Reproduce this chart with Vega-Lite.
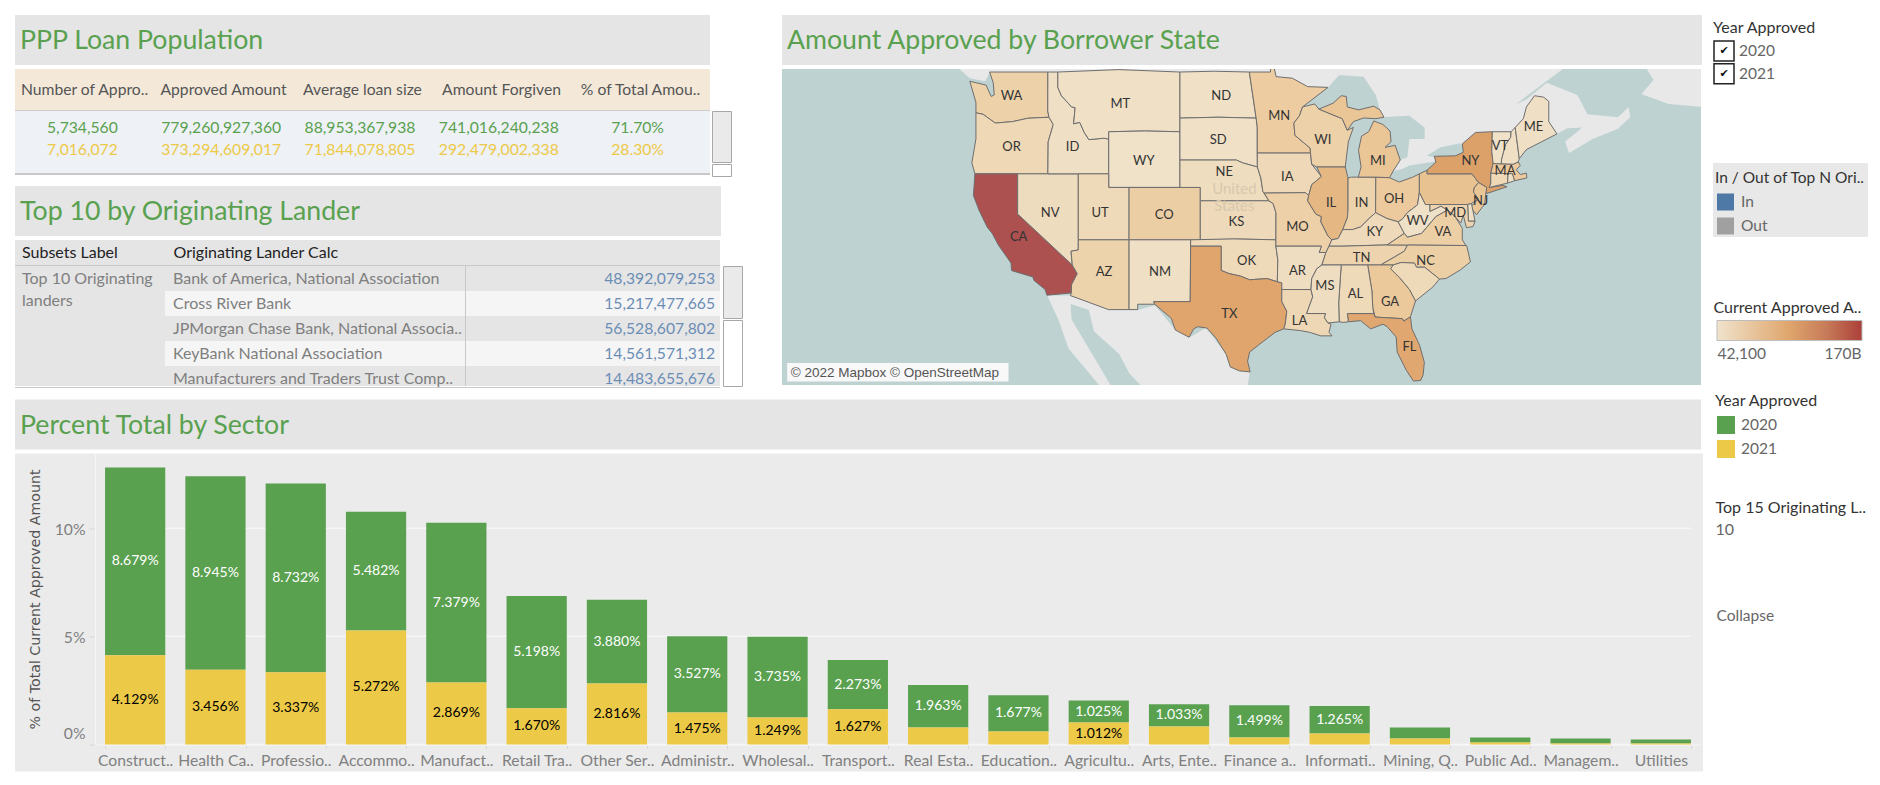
{"$schema":"https://vega.github.io/schema/vega-lite/v6.json","padding":{"left":15,"top":15,"right":0,"bottom":0},"background":"white","config":{"view":{"stroke":null},"font":"Lato","text":{"font":"Lato"},"concat":{"spacing":0}},
"hconcat":[
{"vconcat":[
 {"hconcat":[
  {"vconcat":[
   {"vconcat":[
    {"width":695,"height":50,"view":{"fill":"#e5e5e5","stroke":null},"title":{"text":"PPP Loan Population","anchor":"start","frame":"group","offset":-40,"dx":5,"fontSize":26.7,"font":"Lato","fontWeight":"normal","color":"#59a14f"},"data":{"values":[{}]},"mark":{"type":"rect","opacity":0},"encoding":{}},
    {"hconcat":[
     {"vconcat":[
      {"width":695,"height":41,"view":{"fill":"#f4e9d9","stroke":null},"data":{"values":[{"column":"Number of Appro.."},{"column":"Approved Amount"},{"column":"Average loan size"},{"column":"Amount Forgiven"},{"column":"% of Total Amou.."}]},"mark":{"type":"text","fontSize":15.7,"color":"#555555"},"encoding":{"text":{"field":"column"},"x":{"field":"column","type":"nominal","sort":null,"axis":null,"scale":{"type":"band","paddingInner":0,"paddingOuter":0}}}},
      {"width":695,"height":1,"view":{"fill":"#cccccc","stroke":null},"data":{"values":[{}]},"mark":{"type":"rect","opacity":0},"encoding":{}},
      {"width":695,"height":62,"view":{"fill":"#eef1f5","stroke":null},"data":{"values":[
       {"column":"Number","year":"2020","value":"5,734,560"},{"column":"Approved","year":"2020","value":"779,260,927,360"},{"column":"Average","year":"2020","value":"88,953,367,938"},{"column":"Forgiven","year":"2020","value":"741,016,240,238"},{"column":"Percent","year":"2020","value":"71.70%"},
       {"column":"Number","year":"2021","value":"7,016,072"},{"column":"Approved","year":"2021","value":"373,294,609,017"},{"column":"Average","year":"2021","value":"71,844,078,805"},{"column":"Forgiven","year":"2021","value":"292,479,002,338"},{"column":"Percent","year":"2021","value":"28.30%"}]},
       "mark":{"type":"text","fontSize":15.7},"encoding":{"text":{"field":"value"},"x":{"field":"column","type":"nominal","sort":null,"axis":null,"scale":{"type":"band","range":[-2,692],"paddingInner":0,"paddingOuter":0}},"y":{"field":"year","type":"nominal","axis":null,"scale":{"type":"band","range":[6,50],"paddingInner":0,"paddingOuter":0}},"color":{"field":"year","type":"nominal","legend":null,"scale":{"domain":["2020","2021"],"range":["#59a14f","#edc948"]}}}},
      {"width":695,"height":2,"view":{"fill":"#c8c8c8","stroke":null},"data":{"values":[{}]},"mark":{"type":"rect","opacity":0},"encoding":{}}
     ]},
     {"vconcat":[
      {"width":19,"height":41,"data":{"values":[{}]},"mark":{"type":"rect","opacity":0},"encoding":{}},
      {"width":19,"height":51,"view":{"fill":"#eaeaea","stroke":"#a8a8a8","strokeWidth":1},"data":{"values":[{}]},"mark":{"type":"rect","opacity":0},"encoding":{}},
      {"width":19,"height":12,"view":{"fill":"#ffffff","stroke":"#a8a8a8","strokeWidth":1},"data":{"values":[{}]},"mark":{"type":"rect","opacity":0},"encoding":{}}
     ]}
    ],"spacing":1}
   ],"spacing":4},
   {"vconcat":[
    {"width":706,"height":50,"view":{"fill":"#e5e5e5","stroke":null},"title":{"text":"Top 10 by Originating Lander","anchor":"start","frame":"group","offset":-40,"dx":5,"fontSize":26.7,"font":"Lato","fontWeight":"normal","color":"#59a14f"},"data":{"values":[{}]},"mark":{"type":"rect","opacity":0},"encoding":{}},
    {"hconcat":[
     {"vconcat":[
      {"hconcat":[
       {"width":150,"height":25,"view":{"fill":"#e5e5e5","stroke":null},"data":{"values":[{"header":"Subsets Label"}]},"mark":{"type":"text","align":"left","dx":-68,"fontSize":16,"color":"#222222"},"encoding":{"text":{"field":"header"}}},
       {"width":555,"height":25,"view":{"fill":"#e5e5e5","stroke":null},"data":{"values":[{"header":"Originating Lander Calc"}]},"mark":{"type":"text","align":"left","dx":-269,"fontSize":16,"color":"#222222"},"encoding":{"text":{"field":"header"}}}
      ]},
      {"width":705,"height":1,"view":{"fill":"#c8c8c8","stroke":null},"data":{"values":[{}]},"mark":{"type":"rect","opacity":0},"encoding":{}},
      {"hconcat":[
       {"width":150,"height":120,"view":{"fill":"#e5e5e5","stroke":null},"data":{"values":[{"line":"Top 10 Originating"},{"line":"landers"}]},"mark":{"type":"text","align":"left","dx":-68,"fontSize":16,"color":"#7f7f7f"},"encoding":{"text":{"field":"line"},"y":{"field":"line","type":"nominal","sort":null,"axis":null,"scale":{"type":"band","range":[2,46],"paddingInner":0,"paddingOuter":0}}}},
       {"width":300,"height":120,"data":{"values":[{"lander":"Bank of America, National Association","shade":"a"},{"lander":"Cross River Bank","shade":"b"},{"lander":"JPMorgan Chase Bank, National Associa..","shade":"a"},{"lander":"KeyBank National Association","shade":"b"},{"lander":"Manufacturers and Traders Trust Comp..","shade":"a"}]},
        "encoding":{"y":{"field":"lander","type":"nominal","sort":null,"axis":null,"scale":{"type":"band","range":[0,125],"paddingInner":0,"paddingOuter":0}}},
        "layer":[{"mark":{"type":"rect","clip":true},"encoding":{"color":{"field":"shade","type":"nominal","legend":null,"scale":{"domain":["a","b"],"range":["#e5e5e5","#f5f5f5"]}}}},
        {"mark":{"type":"text","align":"left","dx":-142,"fontSize":16,"color":"#7f7f7f"},"encoding":{"text":{"field":"lander"}}}]},
       {"width":1,"height":120,"view":{"fill":"#c8c8c8","stroke":null},"data":{"values":[{}]},"mark":{"type":"rect","opacity":0},"encoding":{}},
       {"width":254,"height":120,"data":{"values":[{"lander":"Bank of America, National Association","amount":"48,392,079,253","shade":"a"},{"lander":"Cross River Bank","amount":"15,217,477,665","shade":"b"},{"lander":"JPMorgan Chase Bank, National Associa..","amount":"56,528,607,802","shade":"a"},{"lander":"KeyBank National Association","amount":"14,561,571,312","shade":"b"},{"lander":"Manufacturers and Traders Trust Comp..","amount":"14,483,655,676","shade":"a"}]},
        "encoding":{"y":{"field":"lander","type":"nominal","sort":null,"axis":null,"scale":{"type":"band","range":[0,125],"paddingInner":0,"paddingOuter":0}}},
        "layer":[{"mark":{"type":"rect","clip":true},"encoding":{"color":{"field":"shade","type":"nominal","legend":null,"scale":{"domain":["a","b"],"range":["#e5e5e5","#f5f5f5"]}}}},
        {"mark":{"type":"text","align":"right","dx":122,"fontSize":15.7,"color":"#6b8db5"},"encoding":{"text":{"field":"amount"}}}]}
      ],"resolve":{"scale":{"y":"independent","color":"independent"}}},
      {"width":705,"height":1,"view":{"fill":"#c8c8c8","stroke":null},"data":{"values":[{}]},"mark":{"type":"rect","opacity":0},"encoding":{}}
     ]},
     {"vconcat":[
      {"width":19,"height":25,"data":{"values":[{}]},"mark":{"type":"rect","opacity":0},"encoding":{}},
      {"width":19,"height":52,"view":{"fill":"#eaeaea","stroke":"#a8a8a8","strokeWidth":1},"data":{"values":[{}]},"mark":{"type":"rect","opacity":0},"encoding":{}},
      {"width":19,"height":66,"view":{"fill":"#ffffff","stroke":"#a8a8a8","strokeWidth":1},"data":{"values":[{}]},"mark":{"type":"rect","opacity":0},"encoding":{}}
     ]}
    ],"spacing":2,"resolve":{"scale":{"y":"independent","color":"independent"}}}
   ],"spacing":4,"resolve":{"scale":{"y":"independent","color":"independent"}}}
  ],"spacing":9,"resolve":{"scale":{"x":"independent","y":"independent","color":"independent"}}},
  {"vconcat":[
   {"width":920,"height":50,"view":{"fill":"#e5e5e5","stroke":null},"title":{"text":"Amount Approved by Borrower State","anchor":"start","frame":"group","offset":-40,"dx":5,"fontSize":26.7,"font":"Lato","fontWeight":"normal","color":"#59a14f"},"data":{"values":[{}]},"mark":{"type":"rect","opacity":0},"encoding":{}},
   {"width":919,"height":316,"view":{"fill":"#bfd2d2","stroke":null},
    "projection":{"type":"mercator","scale":583,"center":[-98,38],"translate":[459.5,158]},
    "layer":[
     {"data":{"values":[
      {"type":"Feature","properties":{"name":"Canada"},"geometry":{"type":"Polygon","coordinates":[[[-128,52],[-60,52],[-60,46.9],[-59.8,46],[-61,45.2],[-63.5,44.5],[-65.8,43.5],[-66.2,44.3],[-64.5,45.3],[-66,45.25],[-67,44.85],[-67.8,45.7],[-67.8,47.07],[-69.2,47.45],[-70,46.7],[-70.3,45.9],[-71.1,45.3],[-71.5,45],[-73.35,45],[-75,44.95],[-76.3,44.15],[-79.05,43.27],[-78.9,42.85],[-83.1,42.2],[-82.4,43],[-84,46],[-84.8,47],[-88.4,48.3],[-89.5,48],[-91.5,47.5],[-100,47.5],[-110,47.5],[-121.5,47.5],[-121.5,48.5],[-122.75,49],[-123.2,48.4],[-124.7,48.6],[-128,50.5],[-128,52]]]}},
      {"type":"Feature","properties":{"name":"Newfoundland"},"geometry":{"type":"Polygon","coordinates":[[[-59.3,47.7],[-57,50.5],[-52,50.5],[-52.6,46.7],[-56,46.9],[-59.3,47.7]]]}},
      {"type":"Feature","properties":{"name":"Mexico"},"geometry":{"type":"Polygon","coordinates":[[[-117.1,32.5],[-114.8,32.5],[-111,31.3],[-108.2,31.3],[-106.5,31.7],[-104.5,29.6],[-103,29],[-101.5,29.8],[-99.5,27.5],[-97.2,25.9],[-97.5,24],[-97.7,22],[-98,20],[-105.5,20],[-106,23],[-109,25.8],[-110,27.5],[-112.5,29.5],[-113,31.3],[-114.8,31.8],[-114.7,30.5],[-113,28],[-111,25],[-110,23],[-112,24.8],[-115,28],[-116,30.5],[-117.1,32.5]]]}}
     ]},"mark":{"type":"geoshape","fill":"#e8e8e8","stroke":null,"clip":true},"encoding":{}},
     {"data":{"values":[
      {"type":"Feature","properties":{"name":"Superior"},"geometry":{"type":"Polygon","coordinates":[[[-92,46.7],[-89.5,48],[-88.4,48.8],[-86,48.7],[-84.8,47.5],[-84.4,46.5],[-86,46.4],[-88,46.7],[-90,46.5],[-92,46.7]]]}},
      {"type":"Feature","properties":{"name":"Huron"},"geometry":{"type":"Polygon","coordinates":[[[-84.5,46],[-81.5,46.1],[-80,45.3],[-80,44.5],[-81.5,44.5],[-81.7,43.2],[-82.4,43],[-83.4,44],[-84,45.5],[-84.5,46]]]}},
      {"type":"Feature","properties":{"name":"Erie"},"geometry":{"type":"Polygon","coordinates":[[[-83.2,42],[-81.5,42.6],[-79,42.9],[-78.9,42.7],[-81,41.5],[-83.4,41.6],[-83.2,42]]]}},
      {"type":"Feature","properties":{"name":"Ontario"},"geometry":{"type":"Polygon","coordinates":[[[-79.8,43.3],[-78.5,43.9],[-76.5,44.2],[-76.2,43.5],[-79,43.2],[-79.8,43.3]]]}},
      {"type":"Feature","properties":{"name":"Gulf"},"geometry":{"type":"Polygon","coordinates":[[[-71,46.9],[-66,49.4],[-59,50],[-57.5,48.5],[-59,47.3],[-61,46],[-64,46.2],[-65,47.5],[-68,48.3],[-70,47.2],[-71,46.9]]]}}
     ]},"mark":{"type":"geoshape","fill":"#bfd2d2","stroke":null,"clip":true},"encoding":{}},
     {"data":{"values":[
      {"type":"Feature","properties":{"state":"WA","amount":22000000000},"geometry":{"type":"Polygon","coordinates":[[[-124.7,48.4],[-123.1,48.15],[-122.6,47.4],[-122.3,47.5],[-122.4,48.3],[-122.75,49],[-117.03,49],[-117.04,46.42],[-116.92,46],[-119,45.93],[-120.5,45.7],[-122.2,45.6],[-123.4,46.2],[-124.1,46.3],[-124.1,47],[-124.7,48.4]]]}},
      {"type":"Feature","properties":{"state":"OR","amount":14000000000},"geometry":{"type":"Polygon","coordinates":[[[-124.1,46.3],[-123.4,46.2],[-122.2,45.6],[-120.5,45.7],[-119,45.93],[-116.92,46],[-116.5,45.5],[-117,44.3],[-117.03,42],[-120,42],[-124.2,42],[-124.5,42.8],[-124.1,44.5],[-124.1,46.3]]]}},
      {"type":"Feature","properties":{"state":"CA","amount":170000000000},"geometry":{"type":"Polygon","coordinates":[[[-124.2,42],[-120,42],[-120,39],[-114.63,35],[-114.14,34.3],[-114.7,33.4],[-114.72,32.72],[-117.12,32.53],[-117.3,33],[-118.4,33.75],[-118.5,34.03],[-120.6,34.55],[-120.65,35.15],[-121.9,36.6],[-122.5,37.5],[-123,38],[-123.8,39.3],[-124.35,40.4],[-124.2,42]]]}},
      {"type":"Feature","properties":{"state":"NV","amount":9000000000},"geometry":{"type":"Polygon","coordinates":[[[-120,42],[-117.03,42],[-114.04,42],[-114.04,37],[-114.04,36.2],[-114.75,36.1],[-114.63,35],[-120,39],[-120,42]]]}},
      {"type":"Feature","properties":{"state":"ID","amount":5000000000},"geometry":{"type":"Polygon","coordinates":[[[-117.03,49],[-116.05,49],[-116.05,48],[-115.7,47.45],[-114.7,46.7],[-114.35,46.65],[-114.5,45.55],[-113.9,45.65],[-113.45,44.95],[-113,44.45],[-111.5,44.55],[-111.05,44.48],[-111.05,42],[-114.04,42],[-117.03,42],[-117,44.3],[-116.5,45.5],[-116.92,46],[-117.04,46.42],[-117.03,49]]]}},
      {"type":"Feature","properties":{"state":"MT","amount":4000000000},"geometry":{"type":"Polygon","coordinates":[[[-116.05,49],[-104.05,49],[-104.05,45.94],[-104.05,45],[-111.05,45],[-111.05,44.48],[-111.5,44.55],[-113,44.45],[-113.45,44.95],[-113.9,45.65],[-114.5,45.55],[-114.35,46.65],[-114.7,46.7],[-115.7,47.45],[-116.05,48],[-116.05,49]]]}},
      {"type":"Feature","properties":{"state":"WY","amount":2000000000},"geometry":{"type":"Polygon","coordinates":[[[-111.05,45],[-104.05,45],[-104.05,43],[-104.05,41],[-109.05,41],[-111.05,41],[-111.05,42],[-111.05,45]]]}},
      {"type":"Feature","properties":{"state":"UT","amount":12000000000},"geometry":{"type":"Polygon","coordinates":[[[-114.04,42],[-111.05,42],[-111.05,41],[-109.05,41],[-109.05,37],[-114.04,37],[-114.04,42]]]}},
      {"type":"Feature","properties":{"state":"CO","amount":25000000000},"geometry":{"type":"Polygon","coordinates":[[[-109.05,41],[-104.05,41],[-102.05,41],[-102.05,40],[-102.05,37],[-103,37],[-109.05,37],[-109.05,41]]]}},
      {"type":"Feature","properties":{"state":"AZ","amount":20000000000},"geometry":{"type":"Polygon","coordinates":[[[-114.04,37],[-109.05,37],[-109.05,31.33],[-111.07,31.33],[-114.81,32.5],[-114.72,32.72],[-114.7,33.4],[-114.14,34.3],[-114.63,35],[-114.75,36.1],[-114.04,36.2],[-114.04,37]]]}},
      {"type":"Feature","properties":{"state":"NM","amount":5000000000},"geometry":{"type":"Polygon","coordinates":[[[-109.05,37],[-103,37],[-103,36.5],[-103.04,32],[-106.62,32],[-106.53,31.78],[-108.2,31.78],[-108.2,31.33],[-109.05,31.33],[-109.05,37]]]}},
      {"type":"Feature","properties":{"state":"ND","amount":4000000000},"geometry":{"type":"Polygon","coordinates":[[[-104.05,49],[-97.23,49],[-96.56,45.94],[-104.05,45.94],[-104.05,49]]]}},
      {"type":"Feature","properties":{"state":"SD","amount":4000000000},"geometry":{"type":"Polygon","coordinates":[[[-104.05,45.94],[-96.56,45.94],[-96.45,45.3],[-96.45,43.5],[-96.44,42.5],[-97.9,42.8],[-98.5,43],[-104.05,43],[-104.05,45.94]]]}},
      {"type":"Feature","properties":{"state":"NE","amount":8000000000},"geometry":{"type":"Polygon","coordinates":[[[-104.05,43],[-98.5,43],[-97.9,42.8],[-96.44,42.5],[-96.1,41.7],[-95.9,40.7],[-95.31,40],[-102.05,40],[-102.05,41],[-104.05,41],[-104.05,43]]]}},
      {"type":"Feature","properties":{"state":"KS","amount":11000000000},"geometry":{"type":"Polygon","coordinates":[[[-102.05,40],[-95.31,40],[-94.9,39.8],[-94.61,39.1],[-94.62,37],[-102.05,37],[-102.05,40]]]}},
      {"type":"Feature","properties":{"state":"OK","amount":12000000000},"geometry":{"type":"Polygon","coordinates":[[[-103,37],[-94.62,37],[-94.62,36.5],[-94.43,35.4],[-94.48,33.64],[-95.5,33.9],[-97.2,33.8],[-98.1,34.1],[-99.2,34.3],[-100,34.56],[-100,36.5],[-103,36.5],[-103,37]]]}},
      {"type":"Feature","properties":{"state":"TX","amount":85000000000},"geometry":{"type":"Polygon","coordinates":[[[-103,36.5],[-100,36.5],[-100,34.56],[-99.2,34.3],[-98.1,34.1],[-97.2,33.8],[-95.5,33.9],[-94.48,33.64],[-94.04,33.55],[-94.04,33],[-94.04,32],[-93.55,31.2],[-93.7,30.1],[-93.85,29.7],[-94.7,29.4],[-95.9,28.6],[-97.2,27.7],[-97.4,26.9],[-97.15,25.96],[-98.2,26.05],[-99.1,26.4],[-99.5,27.5],[-100.5,28.9],[-101.4,29.77],[-102.3,29.88],[-102.7,29.7],[-103.15,28.98],[-104.5,29.6],[-104.9,30.6],[-106.53,31.78],[-106.62,32],[-103.04,32],[-103,36.5]]]}},
      {"type":"Feature","properties":{"state":"MN","amount":28000000000},"geometry":{"type":"Polygon","coordinates":[[[-97.23,49],[-95.15,49],[-95.15,49.38],[-94.8,49.3],[-94.6,48.7],[-93,48.6],[-91.5,48.05],[-89.5,48],[-92,46.7],[-92.3,46.1],[-92.85,45.6],[-92.75,44.75],[-91.25,43.85],[-91.22,43.5],[-96.45,43.5],[-96.45,45.3],[-96.56,45.94],[-97.23,49]]]}},
      {"type":"Feature","properties":{"state":"IA","amount":13000000000},"geometry":{"type":"Polygon","coordinates":[[[-96.45,43.5],[-91.22,43.5],[-91.1,42.7],[-90.15,41.8],[-91.1,41.2],[-91.4,40.4],[-91.73,40.61],[-95.77,40.58],[-95.9,40.7],[-96.1,41.7],[-96.44,42.5],[-96.45,43.5]]]}},
      {"type":"Feature","properties":{"state":"MO","amount":23000000000},"geometry":{"type":"Polygon","coordinates":[[[-95.77,40.58],[-91.73,40.61],[-91.4,40.4],[-91.5,40],[-90.7,39],[-90.15,38.8],[-90.2,38.4],[-89.5,37.3],[-89.13,37],[-89.4,36.5],[-89.7,36],[-90.37,36],[-90.15,36.5],[-94.62,36.5],[-94.62,37],[-94.61,39.1],[-94.9,39.8],[-95.31,40],[-95.77,40.58]]]}},
      {"type":"Feature","properties":{"state":"AR","amount":7000000000},"geometry":{"type":"Polygon","coordinates":[[[-94.62,36.5],[-90.15,36.5],[-90.37,36],[-89.7,36],[-90.1,35],[-90.6,34.7],[-91.1,33.9],[-91.17,33],[-94.04,33],[-94.04,33.55],[-94.48,33.64],[-94.43,35.4],[-94.62,36.5]]]}},
      {"type":"Feature","properties":{"state":"LA","amount":15000000000},"geometry":{"type":"Polygon","coordinates":[[[-94.04,33],[-91.17,33],[-91,32.4],[-91.6,31],[-89.73,31],[-89.85,30.65],[-89.5,30.2],[-89.2,30.1],[-89.4,29.4],[-89.1,29.1],[-90.2,29.1],[-91.3,29.4],[-92.2,29.55],[-93.85,29.7],[-93.7,30.1],[-93.55,31.2],[-94.04,32],[-94.04,33]]]}},
      {"type":"Feature","properties":{"state":"WI","amount":22000000000},"geometry":{"type":"Polygon","coordinates":[[[-92,46.7],[-90.8,46.9],[-90.4,46.55],[-88.1,45.9],[-87.6,45.1],[-87,45.3],[-87.5,44.3],[-87.8,42.5],[-90.6,42.5],[-91.1,42.7],[-91.22,43.5],[-91.25,43.85],[-92.75,44.75],[-92.85,45.6],[-92.3,46.1],[-92,46.7]]]}},
      {"type":"Feature","properties":{"state":"IL","amount":58000000000},"geometry":{"type":"Polygon","coordinates":[[[-90.6,42.5],[-87.8,42.5],[-87.53,41.7],[-87.53,39.35],[-87.6,38.7],[-88.05,37.8],[-88.5,37.1],[-89.13,37],[-89.5,37.3],[-90.2,38.4],[-90.15,38.8],[-90.7,39],[-91.5,40],[-91.4,40.4],[-91.1,41.2],[-90.15,41.8],[-90.6,42.5]]]}},
      {"type":"Feature","properties":{"state":"IN","amount":20000000000},"geometry":{"type":"Polygon","coordinates":[[[-87.53,41.7],[-87.2,41.76],[-84.8,41.76],[-84.82,39.1],[-85.4,38.7],[-86.3,38],[-87.1,37.8],[-88.05,37.8],[-87.6,38.7],[-87.53,39.35],[-87.53,41.7]]]}},
      {"type":"Feature","properties":{"state":"OH","amount":30000000000},"geometry":{"type":"Polygon","coordinates":[[[-84.8,41.76],[-83.45,41.72],[-82.5,41.4],[-81.2,41.75],[-80.52,42],[-80.52,40.64],[-80.7,39.7],[-81.7,39.1],[-82.2,38.6],[-82.6,38.4],[-83.7,38.65],[-84.82,39.1],[-84.8,41.76]]]}},
      {"type":"Feature","properties":{"state":"MI","amount":38000000000},"geometry":{"type":"MultiPolygon","coordinates":[[[[-86.52,41.76],[-86.25,42.5],[-86.5,43.7],[-86.2,44.7],[-85.5,45],[-85,45.75],[-84.1,45.5],[-83.4,45.05],[-83.3,44.3],[-83.9,43.9],[-82.9,44.05],[-82.4,43],[-83.1,42.2],[-83.45,41.72],[-84.8,41.76],[-86.52,41.76]]],[[[-90.4,46.55],[-89,46.95],[-88.2,47.45],[-87.7,47.4],[-87.6,46.7],[-86.5,46.5],[-85,46.75],[-84.4,46.5],[-84,46],[-84.8,45.9],[-86,45.95],[-87,45.7],[-87.6,45.1],[-88.1,45.9],[-90.4,46.55]]]]}},
      {"type":"Feature","properties":{"state":"KY","amount":11000000000},"geometry":{"type":"Polygon","coordinates":[[[-89.13,37],[-88.5,37.1],[-88.05,37.8],[-87.1,37.8],[-86.3,38],[-85.4,38.7],[-84.82,39.1],[-83.7,38.65],[-82.6,38.4],[-82,37.5],[-83.68,36.6],[-88.07,36.5],[-89.4,36.5],[-89.13,37]]]}},
      {"type":"Feature","properties":{"state":"TN","amount":18000000000},"geometry":{"type":"Polygon","coordinates":[[[-90.1,35],[-89.7,36],[-89.4,36.5],[-88.07,36.5],[-83.68,36.6],[-81.68,36.59],[-82,36.1],[-84.32,35],[-88.2,35],[-90.1,35]]]}},
      {"type":"Feature","properties":{"state":"WV","amount":3000000000},"geometry":{"type":"Polygon","coordinates":[[[-82.6,38.4],[-82.2,38.6],[-81.7,39.1],[-80.7,39.7],[-80.52,40.64],[-79.92,39.72],[-79.48,39.72],[-79.48,39.2],[-78.4,39.6],[-77.75,39.3],[-78.9,38.8],[-80.3,37.5],[-81.7,37.2],[-82,37.5],[-82.6,38.4]]]}},
      {"type":"Feature","properties":{"state":"VA","amount":24000000000},"geometry":{"type":"Polygon","coordinates":[[[-83.68,36.6],[-82,37.5],[-81.7,37.2],[-80.3,37.5],[-78.9,38.8],[-77.75,39.3],[-77.05,38.85],[-76.3,37.9],[-76.3,37],[-75.95,36.55],[-81.68,36.59],[-83.68,36.6]]]}},
      {"type":"Feature","properties":{"state":"NC","amount":24000000000},"geometry":{"type":"Polygon","coordinates":[[[-84.32,35],[-82,36.1],[-81.68,36.59],[-75.87,36.55],[-75.5,35.25],[-76.5,34.6],[-77.9,33.9],[-78.55,33.86],[-80,34.82],[-80.8,34.82],[-81,35.15],[-82.3,35.2],[-83.1,35],[-84.32,35]]]}},
      {"type":"Feature","properties":{"state":"SC","amount":12000000000},"geometry":{"type":"Polygon","coordinates":[[[-83.1,35],[-82.3,35.2],[-81,35.15],[-80.8,34.82],[-80,34.82],[-78.55,33.86],[-79.2,33.2],[-80.9,32.05],[-81.5,33],[-82.5,34],[-83.35,34.7],[-83.1,35]]]}},
      {"type":"Feature","properties":{"state":"GA","amount":32000000000},"geometry":{"type":"Polygon","coordinates":[[[-85.6,35],[-84.32,35],[-83.1,35],[-83.35,34.7],[-82.5,34],[-81.5,33],[-80.9,32.05],[-81.4,30.72],[-82.05,30.36],[-82.2,30.57],[-84.86,30.7],[-85.1,31.5],[-85.18,32.87],[-85.6,35]]]}},
      {"type":"Feature","properties":{"state":"FL","amount":80000000000},"geometry":{"type":"Polygon","coordinates":[[[-87.6,31],[-85,31],[-84.86,30.7],[-82.2,30.57],[-82.05,30.36],[-81.4,30.72],[-81.25,29.7],[-80.5,28.3],[-80.03,26.8],[-80.15,25.7],[-80.4,25.2],[-81.1,25.15],[-81.8,26.1],[-82.7,27.7],[-82.8,29],[-83.7,29.9],[-84.1,30.1],[-85.3,29.7],[-86.3,30.4],[-87.5,30.3],[-87.6,31]]]}},
      {"type":"Feature","properties":{"state":"AL","amount":12000000000},"geometry":{"type":"Polygon","coordinates":[[[-88.2,35],[-85.6,35],[-85.18,32.87],[-85.1,31.5],[-85,31],[-87.6,31],[-87.5,30.3],[-88,30.25],[-88.4,30.3],[-88.45,31.9],[-88.2,35]]]}},
      {"type":"Feature","properties":{"state":"MS","amount":7000000000},"geometry":{"type":"Polygon","coordinates":[[[-90.1,35],[-88.2,35],[-88.45,31.9],[-88.4,30.3],[-89.5,30.2],[-89.85,30.65],[-89.73,31],[-91.6,31],[-91,32.4],[-91.17,33],[-91.1,33.9],[-90.6,34.7],[-90.1,35]]]}},
      {"type":"Feature","properties":{"state":"PA","amount":42000000000},"geometry":{"type":"Polygon","coordinates":[[[-80.52,42],[-79.76,42.27],[-79.76,42],[-75.35,42],[-74.7,41.36],[-75.13,40.97],[-75.2,40.65],[-74.72,40.15],[-75.4,39.8],[-75.78,39.72],[-79.48,39.72],[-79.92,39.72],[-80.52,40.64],[-80.52,42]]]}},
      {"type":"Feature","properties":{"state":"NY","amount":90000000000},"geometry":{"type":"Polygon","coordinates":[[[-79.76,42.27],[-78.9,42.85],[-79.05,43.27],[-77,43.3],[-76.2,43.55],[-76.3,44.15],[-75,44.95],[-73.35,45],[-73.4,43.6],[-73.27,42.75],[-73.5,42.05],[-73.5,41.3],[-73.65,41],[-72.3,41.15],[-71.9,41.05],[-73.9,40.55],[-74,40.7],[-73.9,41],[-74.7,41.36],[-75.35,42],[-79.76,42],[-79.76,42.27]]]}},
      {"type":"Feature","properties":{"state":"NJ","amount":36000000000},"geometry":{"type":"Polygon","coordinates":[[[-74.7,41.36],[-73.9,41],[-74,40.5],[-74.1,39.75],[-74.9,38.95],[-75.5,39.5],[-74.72,40.15],[-75.2,40.65],[-75.13,40.97],[-74.7,41.36]]]}},
      {"type":"Feature","properties":{"state":"DE","amount":3000000000},"geometry":{"type":"Polygon","coordinates":[[[-75.78,39.72],[-75.4,39.8],[-75.05,38.45],[-75.7,38.45],[-75.78,39.72]]]}},
      {"type":"Feature","properties":{"state":"MD","amount":19000000000},"geometry":{"type":"Polygon","coordinates":[[[-79.48,39.72],[-75.78,39.72],[-75.7,38.45],[-75.05,38.45],[-75.25,38.03],[-75.9,37.95],[-76.2,38.9],[-76.45,38.3],[-77.05,38.85],[-77.75,39.3],[-78.4,39.6],[-79.48,39.2],[-79.48,39.72]]]}},
      {"type":"Feature","properties":{"state":"CT","amount":14000000000},"geometry":{"type":"Polygon","coordinates":[[[-73.5,42.05],[-71.8,42.02],[-71.85,41.32],[-73.65,41],[-73.5,41.3],[-73.5,42.05]]]}},
      {"type":"Feature","properties":{"state":"RI","amount":3000000000},"geometry":{"type":"Polygon","coordinates":[[[-71.8,42.02],[-71.38,42.02],[-71.15,41.5],[-71.85,41.32],[-71.8,42.02]]]}},
      {"type":"Feature","properties":{"state":"MA","amount":30000000000},"geometry":{"type":"Polygon","coordinates":[[[-73.27,42.75],[-72.46,42.73],[-71.3,42.7],[-70.8,42.87],[-70.6,42.6],[-71,42.3],[-70.6,41.95],[-70,42.05],[-69.95,41.7],[-71.15,41.5],[-71.38,42.02],[-71.8,42.02],[-73.5,42.05],[-73.27,42.75]]]}},
      {"type":"Feature","properties":{"state":"VT","amount":2000000000},"geometry":{"type":"Polygon","coordinates":[[[-73.35,45],[-71.5,45],[-71.55,44.6],[-72.05,44.1],[-72.45,43],[-72.46,42.73],[-73.27,42.75],[-73.4,43.6],[-73.35,45]]]}},
      {"type":"Feature","properties":{"state":"NH","amount":5000000000},"geometry":{"type":"Polygon","coordinates":[[[-71.5,45],[-71.1,45.3],[-70.7,43.1],[-70.8,42.87],[-71.3,42.7],[-72.46,42.73],[-72.45,43],[-72.05,44.1],[-71.55,44.6],[-71.5,45]]]}},
      {"type":"Feature","properties":{"state":"ME","amount":5000000000},"geometry":{"type":"Polygon","coordinates":[[[-71.1,45.3],[-70.3,45.9],[-70,46.7],[-69.2,47.45],[-68.3,47.35],[-67.8,47.07],[-67.8,45.7],[-67,44.85],[-68.5,44.3],[-70,43.75],[-70.7,43.1],[-71.1,45.3]]]}}
     ]},"mark":{"type":"geoshape","stroke":"#6e6e6e","strokeWidth":1,"clip":true},"encoding":{"color":{"field":"properties.amount","type":"quantitative","legend":null,"scale":{"type":"linear","domain":[42100,30000000000,85000000000,130000000000,170000000000],"range":["#f0e3cc","#ecca9d","#dfa56c","#c67a58","#ac5150"]}}}},
     {"data":{"values":[{"type":"Feature","properties":{"name":"attribution"},"geometry":{"type":"Polygon","coordinates":[[[-142.65,26.74],[-137,26.74],[-131,26.74],[-126,26.74],[-120.9,26.74],[-120.9,25.1],[-126,25.1],[-131,25.1],[-137,25.1],[-142.65,25.1],[-142.65,26.74]]]}}]},"mark":{"type":"geoshape","fill":"#f8f8f8","stroke":null,"clip":true},"encoding":{}},
     {"data":{"values":[{"word":"United","lon":-98.7,"lat":40.9},{"word":"States","lon":-98.7,"lat":39.6}]},"mark":{"type":"text","fontSize":15,"color":"#d8c8ae"},"encoding":{"longitude":{"field":"lon","type":"quantitative"},"latitude":{"field":"lat","type":"quantitative"},"text":{"field":"word"}}},
     {"data":{"values":[{"abbr":"WA","lon":-120.6,"lat":47.4},{"abbr":"OR","lon":-120.6,"lat":43.9},{"abbr":"CA","lon":-119.9,"lat":37.2},{"abbr":"NV","lon":-116.8,"lat":39.1},{"abbr":"ID","lon":-114.6,"lat":43.9},{"abbr":"MT","lon":-109.9,"lat":46.9},{"abbr":"WY","lon":-107.6,"lat":42.9},{"abbr":"UT","lon":-111.9,"lat":39.1},{"abbr":"AZ","lon":-111.5,"lat":34.4},{"abbr":"CO","lon":-105.6,"lat":38.9},{"abbr":"NM","lon":-106,"lat":34.4},{"abbr":"ND","lon":-100,"lat":47.4},{"abbr":"SD","lon":-100.3,"lat":44.4},{"abbr":"NE","lon":-99.7,"lat":42.1},{"abbr":"KS","lon":-98.5,"lat":38.4},{"abbr":"OK","lon":-97.5,"lat":35.3},{"abbr":"TX","lon":-99.2,"lat":31},{"abbr":"MN","lon":-94.3,"lat":46.1},{"abbr":"IA","lon":-93.5,"lat":41.8},{"abbr":"MO","lon":-92.5,"lat":38},{"abbr":"AR","lon":-92.5,"lat":34.5},{"abbr":"LA","lon":-92.3,"lat":30.4},{"abbr":"WI","lon":-90,"lat":44.4},{"abbr":"IL","lon":-89.2,"lat":39.8},{"abbr":"MI","lon":-84.6,"lat":42.9},{"abbr":"IN","lon":-86.2,"lat":39.8},{"abbr":"OH","lon":-83,"lat":40.1},{"abbr":"KY","lon":-84.9,"lat":37.6},{"abbr":"TN","lon":-86.2,"lat":35.6},{"abbr":"MS","lon":-89.8,"lat":33.3},{"abbr":"AL","lon":-86.8,"lat":32.6},{"abbr":"GA","lon":-83.4,"lat":32},{"abbr":"FL","lon":-81.5,"lat":28.1},{"abbr":"NC","lon":-79.9,"lat":35.3},{"abbr":"VA","lon":-78.2,"lat":37.6},{"abbr":"WV","lon":-80.7,"lat":38.5},{"abbr":"NY","lon":-75.5,"lat":42.9},{"abbr":"NJ","lon":-74.5,"lat":40},{"abbr":"MD","lon":-77,"lat":39.1},{"abbr":"MA","lon":-72.1,"lat":42.2},{"abbr":"VT","lon":-72.6,"lat":44},{"abbr":"ME","lon":-69.3,"lat":45.3}]},"mark":{"type":"text","fontSize":13,"color":"#333333"},"encoding":{"longitude":{"field":"lon","type":"quantitative"},"latitude":{"field":"lat","type":"quantitative"},"text":{"field":"abbr"}}},
     {"data":{"values":[{"note":"© 2022 Mapbox © OpenStreetMap","lon":-142.3,"lat":25.9}]},"mark":{"type":"text","align":"left","fontSize":13.5,"font":"Liberation Sans","color":"#555555"},"encoding":{"longitude":{"field":"lon","type":"quantitative"},"latitude":{"field":"lat","type":"quantitative"},"text":{"field":"note"}}}
    ]}
  ],"spacing":4,"resolve":{"scale":{"color":"independent"}}}
 ],"spacing":39,"resolve":{"scale":{"x":"independent","y":"independent","color":"independent"}}},
 {"vconcat":[
  {"width":1686,"height":50,"view":{"fill":"#e5e5e5","stroke":null},"title":{"text":"Percent Total by Sector","anchor":"start","frame":"group","offset":-40,"dx":5,"fontSize":26.7,"font":"Lato","fontWeight":"normal","color":"#59a14f"},"data":{"values":[{}]},"mark":{"type":"rect","opacity":0},"encoding":{}},
  {"width":1688,"height":318,"view":{"fill":"#ebebeb","stroke":null},
   "data":{"values":[
    {"sector":"Construct..","year":"2020","value":0.08679},{"sector":"Construct..","year":"2021","value":0.04129},
    {"sector":"Health Ca..","year":"2020","value":0.08945},{"sector":"Health Ca..","year":"2021","value":0.03456},
    {"sector":"Professio..","year":"2020","value":0.08732},{"sector":"Professio..","year":"2021","value":0.03337},
    {"sector":"Accommo..","year":"2020","value":0.05482},{"sector":"Accommo..","year":"2021","value":0.05272},
    {"sector":"Manufact..","year":"2020","value":0.07379},{"sector":"Manufact..","year":"2021","value":0.02869},
    {"sector":"Retail Tra..","year":"2020","value":0.05198},{"sector":"Retail Tra..","year":"2021","value":0.0167},
    {"sector":"Other Ser..","year":"2020","value":0.0388},{"sector":"Other Ser..","year":"2021","value":0.02816},
    {"sector":"Administr..","year":"2020","value":0.03527},{"sector":"Administr..","year":"2021","value":0.01475},
    {"sector":"Wholesal..","year":"2020","value":0.03735},{"sector":"Wholesal..","year":"2021","value":0.01249},
    {"sector":"Transport..","year":"2020","value":0.02273},{"sector":"Transport..","year":"2021","value":0.01627},
    {"sector":"Real Esta..","year":"2020","value":0.01963},{"sector":"Real Esta..","year":"2021","value":0.00786},
    {"sector":"Education..","year":"2020","value":0.01677},{"sector":"Education..","year":"2021","value":0.006},
    {"sector":"Agricultu..","year":"2020","value":0.01025},{"sector":"Agricultu..","year":"2021","value":0.01012},
    {"sector":"Arts, Ente..","year":"2020","value":0.01033},{"sector":"Arts, Ente..","year":"2021","value":0.00832},
    {"sector":"Finance a..","year":"2020","value":0.01499},{"sector":"Finance a..","year":"2021","value":0.0032},
    {"sector":"Informati..","year":"2020","value":0.01265},{"sector":"Informati..","year":"2021","value":0.0051},
    {"sector":"Mining, Q..","year":"2020","value":0.0051},{"sector":"Mining, Q..","year":"2021","value":0.0028},
    {"sector":"Public Ad..","year":"2020","value":0.0023},{"sector":"Public Ad..","year":"2021","value":0.0009},
    {"sector":"Managem..","year":"2020","value":0.0023},{"sector":"Managem..","year":"2021","value":0.0005},
    {"sector":"Utilities","year":"2020","value":0.0018},{"sector":"Utilities","year":"2021","value":0.0005}
   ]},
   "layer":[
    {"data":{"values":[{"tick":0},{"tick":0.05},{"tick":0.1}]},"mark":{"type":"rule","color":"#f6f6f6","strokeWidth":1.5},"encoding":{"x":{"datum":"Construct..","type":"nominal","bandPosition":0,"title":null,"scale":{"type":"band","domain":["Construct..","Health Ca..","Professio..","Accommo..","Manufact..","Retail Tra..","Other Ser..","Administr..","Wholesal..","Transport..","Real Esta..","Education..","Agricultu..","Arts, Ente..","Finance a..","Informati..","Mining, Q..","Public Ad..","Managem..","Utilities"],"range":[80,1686],"paddingInner":0.25,"paddingOuter":0.125},"axis":{"offset":-27,"labelAngle":0,"labelFontSize":15.7,"labelColor":"#808080","labelLimit":200,"labelPadding":5,"labelOverlap":false,"tickBand":"extent","tickColor":"#d8d8d8","domainColor":"#f6f6f6","tickSize":4,"grid":false}},"x2":{"datum":"Utilities","bandPosition":1},"y":{"field":"tick","type":"quantitative","title":"% of Total Current Approved Amount","axis":{"offset":-80,"values":[0,0.05,0.1],"format":".0%","grid":false,"labelFontSize":15.7,"labelColor":"#808080","labelPadding":4,"tickColor":"#d8d8d8","domainColor":"#f6f6f6","tickSize":6,"titleFont":"DejaVu Sans","titleFontSize":14.2,"titleFontWeight":"normal","titleColor":"#555555","titleX":-53,"labelOffset":{"condition":{"test":"datum.value===0","value":-11},"value":1}},"scale":{"domain":[0,0.1345],"range":[291,0],"nice":false}}}},
    {"mark":{"type":"bar"},"encoding":{
     "x":{"field":"sector","type":"nominal","sort":null,"title":null},
     "y":{"field":"value","type":"quantitative","stack":"zero","title":"% of Total Current Approved Amount"},
     "color":{"field":"year","type":"nominal","legend":null,"scale":{"domain":["2020","2021"],"range":["#59a14f","#edc948"]}},
     "order":{"field":"year","type":"ordinal","sort":"descending"}}},
    {"mark":{"type":"text","fontSize":14},"encoding":{
     "x":{"field":"sector","type":"nominal","sort":null,"title":null},
     "y":{"field":"value","type":"quantitative","stack":"zero","bandPosition":0.5,"title":"% of Total Current Approved Amount"},
     "order":{"field":"year","type":"ordinal","sort":"descending"},
     "text":{"condition":{"test":"datum.value>=0.01","field":"value","type":"quantitative","format":".3%"},"value":""},
     "color":{"condition":{"test":"datum.year==='2020'","value":"#ffffff"},"value":"#000000"}}}
   ]}
 ],"spacing":4}
],"spacing":11.5,"resolve":{"scale":{"x":"independent","y":"independent","color":"independent"}}},
{"vconcat":[
 {"width":155,"height":2,"data":{"values":[{}]},"mark":{"type":"rect","opacity":0},"encoding":{}},
 {"width":155,"height":68,"layer":[
  {"data":{"values":[{"row":"Year Approved"}]},"mark":{"type":"text","align":"left","fontSize":16,"color":"#333333"},"encoding":{"text":{"field":"row"},"x":{"datum":"title","scale":{"type":"point","domain":["title","box","label"],"range":[0,22],"padding":0},"axis":null},"y":{"field":"row","type":"nominal","axis":null,"scale":{"type":"band","domain":["Year Approved","2020","2021"],"paddingInner":0,"paddingOuter":0}}}},
  {"data":{"values":[{"row":"2020"},{"row":"2021"}]},"mark":{"type":"square","size":400,"fill":"#ffffff","stroke":"#222222","strokeWidth":1.5,"opacity":1},"encoding":{"x":{"datum":"box"},"y":{"field":"row","type":"nominal"}}},
  {"data":{"values":[{"row":"2020"},{"row":"2021"}]},"mark":{"type":"text","text":"✔","font":"DejaVu Sans","fontSize":11,"color":"#111111"},"encoding":{"x":{"datum":"box"},"y":{"field":"row","type":"nominal"}}},
  {"data":{"values":[{"row":"2020"},{"row":"2021"}]},"mark":{"type":"text","align":"left","dx":4,"fontSize":15.5,"color":"#666666"},"encoding":{"text":{"field":"row"},"x":{"datum":"label"},"y":{"field":"row","type":"nominal"}}}
 ]},
 {"width":155,"height":76,"data":{"values":[{}]},"mark":{"type":"rect","opacity":0},"encoding":{}},
 {"width":155,"height":74,"view":{"fill":"#e8e8e8","stroke":null},"layer":[
  {"data":{"values":[{"row":"In / Out of Top N Ori.."}]},"mark":{"type":"text","align":"left","fontSize":15.5,"color":"#333333"},"encoding":{"text":{"field":"row"},"x":{"datum":"title","scale":{"type":"point","domain":["title","box","label"],"range":[2,23],"padding":0},"axis":null},"y":{"field":"row","type":"nominal","axis":null,"scale":{"type":"band","domain":["In / Out of Top N Ori..","In","Out"],"range":[3,75],"paddingInner":0,"paddingOuter":0}}}},
  {"data":{"values":[{"row":"In"},{"row":"Out"}]},"mark":{"type":"square","size":289,"opacity":1},"encoding":{"x":{"datum":"box"},"y":{"field":"row","type":"nominal"},"color":{"field":"row","type":"nominal","legend":null,"scale":{"domain":["In","Out"],"range":["#4e79a7","#a0a0a0"]}}}},
  {"data":{"values":[{"row":"In"},{"row":"Out"}]},"mark":{"type":"text","align":"left","dx":5,"fontSize":15.5,"color":"#666666"},"encoding":{"text":{"field":"row"},"x":{"datum":"label"},"y":{"field":"row","type":"nominal"}}}
 ]},
 {"width":155,"height":59,"data":{"values":[{}]},"mark":{"type":"rect","opacity":0},"encoding":{}},
 {"width":155,"height":69,"encoding":{"y":{"field":"row","type":"nominal","axis":null,"scale":{"type":"band","domain":["Current Approved A..","gradient","range"],"paddingInner":0.13,"paddingOuter":0.065}}},"layer":[
  {"data":{"values":[{"row":"Current Approved A.."}]},"mark":{"type":"text","align":"left","dx":-77,"fontSize":16,"color":"#333333"},"encoding":{"text":{"field":"row"}}},
  {"data":{"values":[{"row":"gradient"}]},"mark":{"type":"rect","stroke":"#bdbdbd","color":{"gradient":"linear","x1":0,"y1":0,"x2":1,"y2":0,"stops":[{"offset":0,"color":"#f0e3cc"},{"offset":0.5,"color":"#dfa56c"},{"offset":0.76,"color":"#c67a58"},{"offset":1,"color":"#ac3f3a"}]}},"encoding":{"x":{"datum":"bar","scale":{"type":"band","domain":["bar"],"range":[4,149],"padding":0},"axis":null}}},
  {"data":{"values":[{"row":"range","low":"42,100"}]},"mark":{"type":"text","align":"left","dx":-73,"fontSize":15.5,"color":"#666666"},"encoding":{"text":{"field":"low"}}},
  {"data":{"values":[{"row":"range","high":"170B"}]},"mark":{"type":"text","align":"right","dx":71,"fontSize":15.5,"color":"#666666"},"encoding":{"text":{"field":"high"}}}
 ]},
 {"width":155,"height":24,"data":{"values":[{}]},"mark":{"type":"rect","opacity":0},"encoding":{}},
 {"width":155,"height":72,"layer":[
  {"data":{"values":[{"row":"Year Approved"}]},"mark":{"type":"text","align":"left","fontSize":16,"color":"#333333"},"encoding":{"text":{"field":"row"},"x":{"datum":"title","scale":{"type":"point","domain":["title","box","label"],"range":[2,24],"padding":0},"axis":null},"y":{"field":"row","type":"nominal","axis":null,"scale":{"type":"band","domain":["Year Approved","2020","2021"],"paddingInner":0,"paddingOuter":0}}}},
  {"data":{"values":[{"row":"2020"},{"row":"2021"}]},"mark":{"type":"square","size":324,"opacity":1},"encoding":{"x":{"datum":"box"},"y":{"field":"row","type":"nominal"},"color":{"field":"row","type":"nominal","legend":null,"scale":{"domain":["2020","2021"],"range":["#59a14f","#edc948"]}}}},
  {"data":{"values":[{"row":"2020"},{"row":"2021"}]},"mark":{"type":"text","align":"left","dx":4,"fontSize":15.5,"color":"#666666"},"encoding":{"text":{"field":"row"},"x":{"datum":"label"},"y":{"field":"row","type":"nominal"}}}
 ]},
 {"width":155,"height":36,"data":{"values":[{}]},"mark":{"type":"rect","opacity":0},"encoding":{}},
 {"width":155,"height":44,"encoding":{"y":{"field":"row","type":"nominal","sort":null,"axis":null,"scale":{"type":"band","paddingInner":0,"paddingOuter":0}}},"layer":[
  {"data":{"values":[{"row":"Top 15 Originating L.."},{"row":"10"}]},"mark":{"type":"text","align":"left","dx":-75,"fontSize":16},"encoding":{"text":{"field":"row"},"color":{"condition":{"test":"datum.row==='10'","value":"#666666"},"value":"#333333"}}}
 ]},
 {"width":155,"height":64,"data":{"values":[{}]},"mark":{"type":"rect","opacity":0},"encoding":{}},
 {"width":155,"height":22,"data":{"values":[{"label":"Collapse"}]},"mark":{"type":"text","align":"left","dx":-74,"fontSize":15.5,"color":"#666666"},"encoding":{"text":{"field":"label"}}}
],"spacing":0,"resolve":{"scale":{"x":"independent","y":"independent","color":"independent"}}}
],"spacing":8,"resolve":{"scale":{"x":"independent","y":"independent","color":"independent"}}}
